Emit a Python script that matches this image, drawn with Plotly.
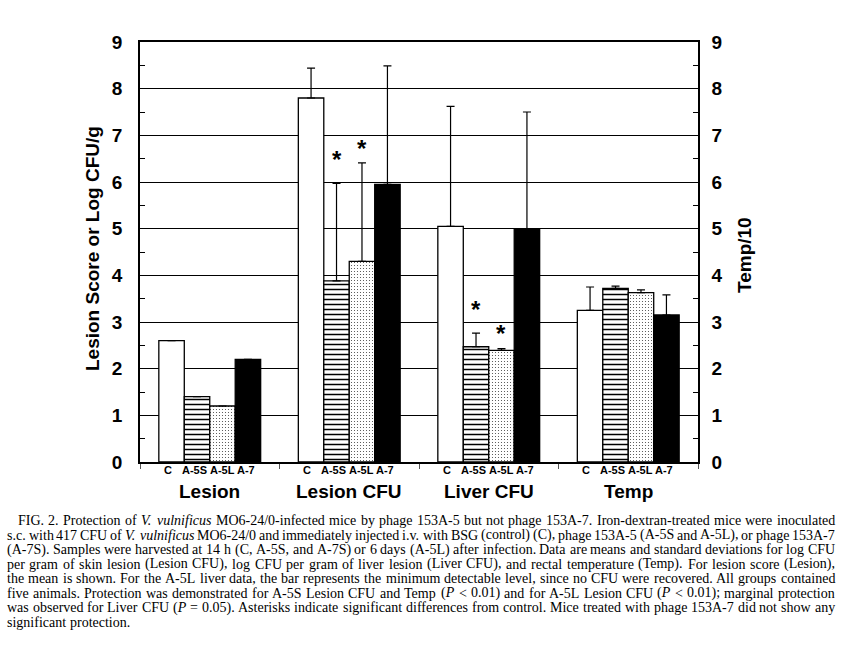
import re
import plotly.graph_objects as go

# ---------------- data ----------------
groups = ["Lesion", "Lesion CFU", "Liver CFU", "Temp"]
series = ["C", "A-5S", "A-5L", "A-7"]

c_vals = [2.6, 7.8, 5.05, 3.25]
a5s_vals = [1.4, 3.88, 2.47, 3.72]
a5l_vals = [1.2, 4.3, 2.39, 3.63]
a7_vals = [2.2, 5.95, 5.0, 3.15]

c_sd = [None, 0.64, 2.57, 0.50]
a5s_sd = [None, 2.09, 0.29, 0.05]
a5l_sd = [None, 2.11, 0.04, 0.06]
a7_sd = [None, 2.54, 2.50, 0.43]

# asterisks: (group index, series index, y value)
star_group = [1, 1, 2, 2]
star_series = [1, 2, 1, 2]
star_y = [6.5, 6.75, 3.3, 2.78]

y_ticks = list(range(0, 10))
y_minor = [i + 0.5 for i in range(9)]

caption_lines = [
    "FIG. 2. Protection of <i>V.</i> <i>vulnificus</i> MO6-24/0-infected mice by phage 153A-5 but not phage 153A-7. Iron-dextran-treated mice were inoculated",
    "s.c. with 417 CFU of <i>V.</i> <i>vulnificus</i> MO6-24/0 and immediately injected i.v. with BSG (control) (C), phage 153A-5 (A-5S and A-5L), or phage 153A-7",
    "(A-7S). Samples were harvested at 14 h (C, A-5S, and A-7S) or 6 days (A-5L) after infection. Data are means and standard deviations for log CFU",
    "per gram of skin lesion (Lesion CFU), log CFU per gram of liver lesion (Liver CFU), and rectal temperature (Temp). For lesion score (Lesion),",
    "the mean is shown. For the A-5L liver data, the bar represents the minimum detectable level, since no CFU were recovered. All groups contained",
    "five animals. Protection was demonstrated for A-5S Lesion CFU and Temp (<i>P</i> &lt; 0.01) and for A-5L Lesion CFU (<i>P</i> &lt; 0.01); marginal protection",
    "was observed for Liver CFU (<i>P</i> = 0.05). Asterisks indicate significant differences from control. Mice treated with phage 153A-7 did not show any",
    "significant protection.",
]

# ---------------- layout geometry ----------------
W, H = 862, 656
ML, MR, MT, MB = 140, 164, 42, 194
PW, PH = W - ML - MR, H - MT - MB


def pxx(p):
    return (p - ML) / PW


def pxy(p):
    return (H - MB - p) / PH


BARGAP = 0.27
bw = (1 - BARGAP) / len(series)


def bar_x(g, s):
    return g + (s - (len(series) - 1) / 2) * bw


FONT_SANS = "Liberation Sans, Arial, Helvetica, sans-serif"
FONT_SERIF = "Liberation Serif, Times New Roman, serif"

fig = go.Figure()

styles = [
    dict(color="white", line=dict(color="black", width=1.3)),
    dict(color="black", line=dict(color="black", width=1.3),
         pattern=dict(shape="-", fgcolor="black", bgcolor="white", size=5, solidity=0.3, fillmode="replace")),
    dict(color="black", line=dict(color="black", width=1.3),
         pattern=dict(shape=".", fgcolor="#333", bgcolor="white", size=3, solidity=0.1, fillmode="replace")),
    dict(color="black", line=dict(color="black", width=1.3)),
]
all_vals = [c_vals, a5s_vals, a5l_vals, a7_vals]
all_sd = [c_sd, a5s_sd, a5l_sd, a7_sd]

for name, vals, sds, st in zip(series, all_vals, all_sd, styles):
    fig.add_trace(go.Bar(
        x=list(range(len(groups))), y=vals, name=name, marker=st,
        error_y=dict(type="data", symmetric=False, array=sds,
                     arrayminus=[0] * len(vals), color="black", thickness=1.2, width=4),
        showlegend=False, hoverinfo="skip",
    ))

fig.add_trace(go.Scatter(x=[None], y=[None], yaxis="y2", showlegend=False, hoverinfo="skip"))

axis_common = dict(
    range=[0, 9], tickvals=y_ticks, ticktext=[str(v) for v in y_ticks],
    ticks="inside", ticklen=6, tickwidth=1.2, tickcolor="black",
    minor=dict(tickvals=y_minor, ticks="inside", ticklen=5, tickwidth=1.2, tickcolor="black"),
    showline=True, linecolor="black", linewidth=1.5, zeroline=False,
    tickfont=dict(family=FONT_SANS, size=19, color="black", weight="bold"),
)

fig.update_layout(
    width=W, height=H,
    margin=dict(l=ML, r=MR, t=MT, b=MB, pad=0),
    paper_bgcolor="white", plot_bgcolor="white",
    barmode="group", bargap=BARGAP, bargroupgap=0,
    xaxis=dict(range=[-0.5, len(groups) - 0.5],
               tickvals=[i - 0.5 for i in range(len(groups) + 1)],
               ticks="outside", ticklen=5, tickwidth=1, tickcolor="#555",
               showticklabels=False, showline=True, linecolor="black", linewidth=1.5,
               mirror=True, showgrid=False, zeroline=False),
    yaxis=dict(**axis_common, showgrid=True, gridcolor="black", gridwidth=1.2,
               ticklabelstandoff=12),
    yaxis2=dict(**axis_common, overlaying="y", side="right", showgrid=False,
                ticklabelstandoff=8),
    showlegend=False,
)

ann = []
# axis titles
ann.append(dict(text="<b>Lesion Score or Log CFU/g</b>", x=pxx(92), y=pxy(249), xref="paper", yref="paper",
                xanchor="center", yanchor="middle",
                textangle=-90, showarrow=False, font=dict(family=FONT_SANS, size=19, color="black")))
ann.append(dict(text="<b>Temp/10</b>", x=pxx(744), y=pxy(255), xref="paper", yref="paper",
                xanchor="center", yanchor="middle",
                textangle=-90, showarrow=False, font=dict(family=FONT_SANS, size=19, color="black")))

# category labels
label_shift = [-4, -3, 0, -2]
for g, gname in enumerate(groups):
    ann.append(dict(text="<b>%s</b>" % gname, x=g, y=pxy(491), xref="x", yref="paper",
                    xanchor="center", yanchor="middle",
                    showarrow=False, font=dict(family=FONT_SANS, size=19, color="black")))
    for s, sname in enumerate(series):
        ann.append(dict(text="<b>%s</b>" % sname, x=bar_x(g, s), y=pxy(470), xref="x", yref="paper",
                        xanchor="center", yanchor="middle", xshift=label_shift[s],
                        showarrow=False, font=dict(family=FONT_SANS, size=11, color="black")))

# asterisks
for g, s, yv in zip(star_group, star_series, star_y):
    ann.append(dict(text="<b>*</b>", x=bar_x(g, s), y=yv, xref="x", yref="y",
                    xanchor="center", yanchor="middle",
                    yshift=-1, showarrow=False, font=dict(family=FONT_SANS, size=24, color="black")))

# caption, justified word by word using Times metrics
ROMAN = {' ': 250, '!': 333, '(': 333, ')': 333, ',': 250, '-': 333, '.': 250, '/': 278, ':': 278,
         ';': 278, '<': 564, '=': 564, '>': 564,
         'A': 722, 'B': 667, 'C': 667, 'D': 722, 'E': 611, 'F': 556, 'G': 722, 'H': 722, 'I': 333,
         'J': 389, 'K': 722, 'L': 611, 'M': 889, 'N': 722, 'O': 722, 'P': 556, 'Q': 722, 'R': 667,
         'S': 556, 'T': 611, 'U': 722, 'V': 722, 'W': 944, 'X': 722, 'Y': 722, 'Z': 611,
         'a': 444, 'b': 500, 'c': 444, 'd': 500, 'e': 444, 'f': 333, 'g': 500, 'h': 500, 'i': 278,
         'j': 278, 'k': 500, 'l': 278, 'm': 778, 'n': 500, 'o': 500, 'p': 500, 'q': 500, 'r': 333,
         's': 389, 't': 278, 'u': 500, 'v': 500, 'w': 722, 'x': 500, 'y': 500, 'z': 444}
ITALIC = {'V': 611, 'P': 611, '.': 250, 'v': 444, 'u': 500, 'l': 278, 'n': 500, 'i': 278,
          'f': 278, 'c': 444, 's': 389}
CAP_SIZE = 14


def word_width(w):
    total = 0
    ital = False
    for tok in re.findall(r"</?i>|&lt;|.", w):
        if tok == "<i>":
            ital = True
        elif tok == "</i>":
            ital = False
        else:
            ch = "<" if tok == "&lt;" else tok
            table = ITALIC if ital else ROMAN
            total += table.get(ch, ROMAN.get(ch, 500))
    return total * CAP_SIZE / 1000.0


line_y = [520, 535, 549.5, 564, 578.5, 593, 607.5, 622]
for i, line in enumerate(caption_lines):
    words = line.split(" ")
    widths = [word_width(w) for w in words]
    x0 = 18 if i == 0 else 7
    x1 = 835
    if i < len(caption_lines) - 1 and len(words) > 1:
        gap = (x1 - x0 - sum(widths)) / (len(words) - 1)
    else:
        gap = 250 * CAP_SIZE / 1000.0
    x = x0
    for w, wd in zip(words, widths):
        ann.append(dict(text=w, x=pxx(x), y=pxy(line_y[i]), xref="paper", yref="paper",
                        xanchor="left", yanchor="middle", showarrow=False, borderpad=0, borderwidth=0,
                        font=dict(family=FONT_SERIF, size=CAP_SIZE, color="black")))
        x += wd + gap

fig.update_layout(annotations=ann)
fig.write_html("out.html")
